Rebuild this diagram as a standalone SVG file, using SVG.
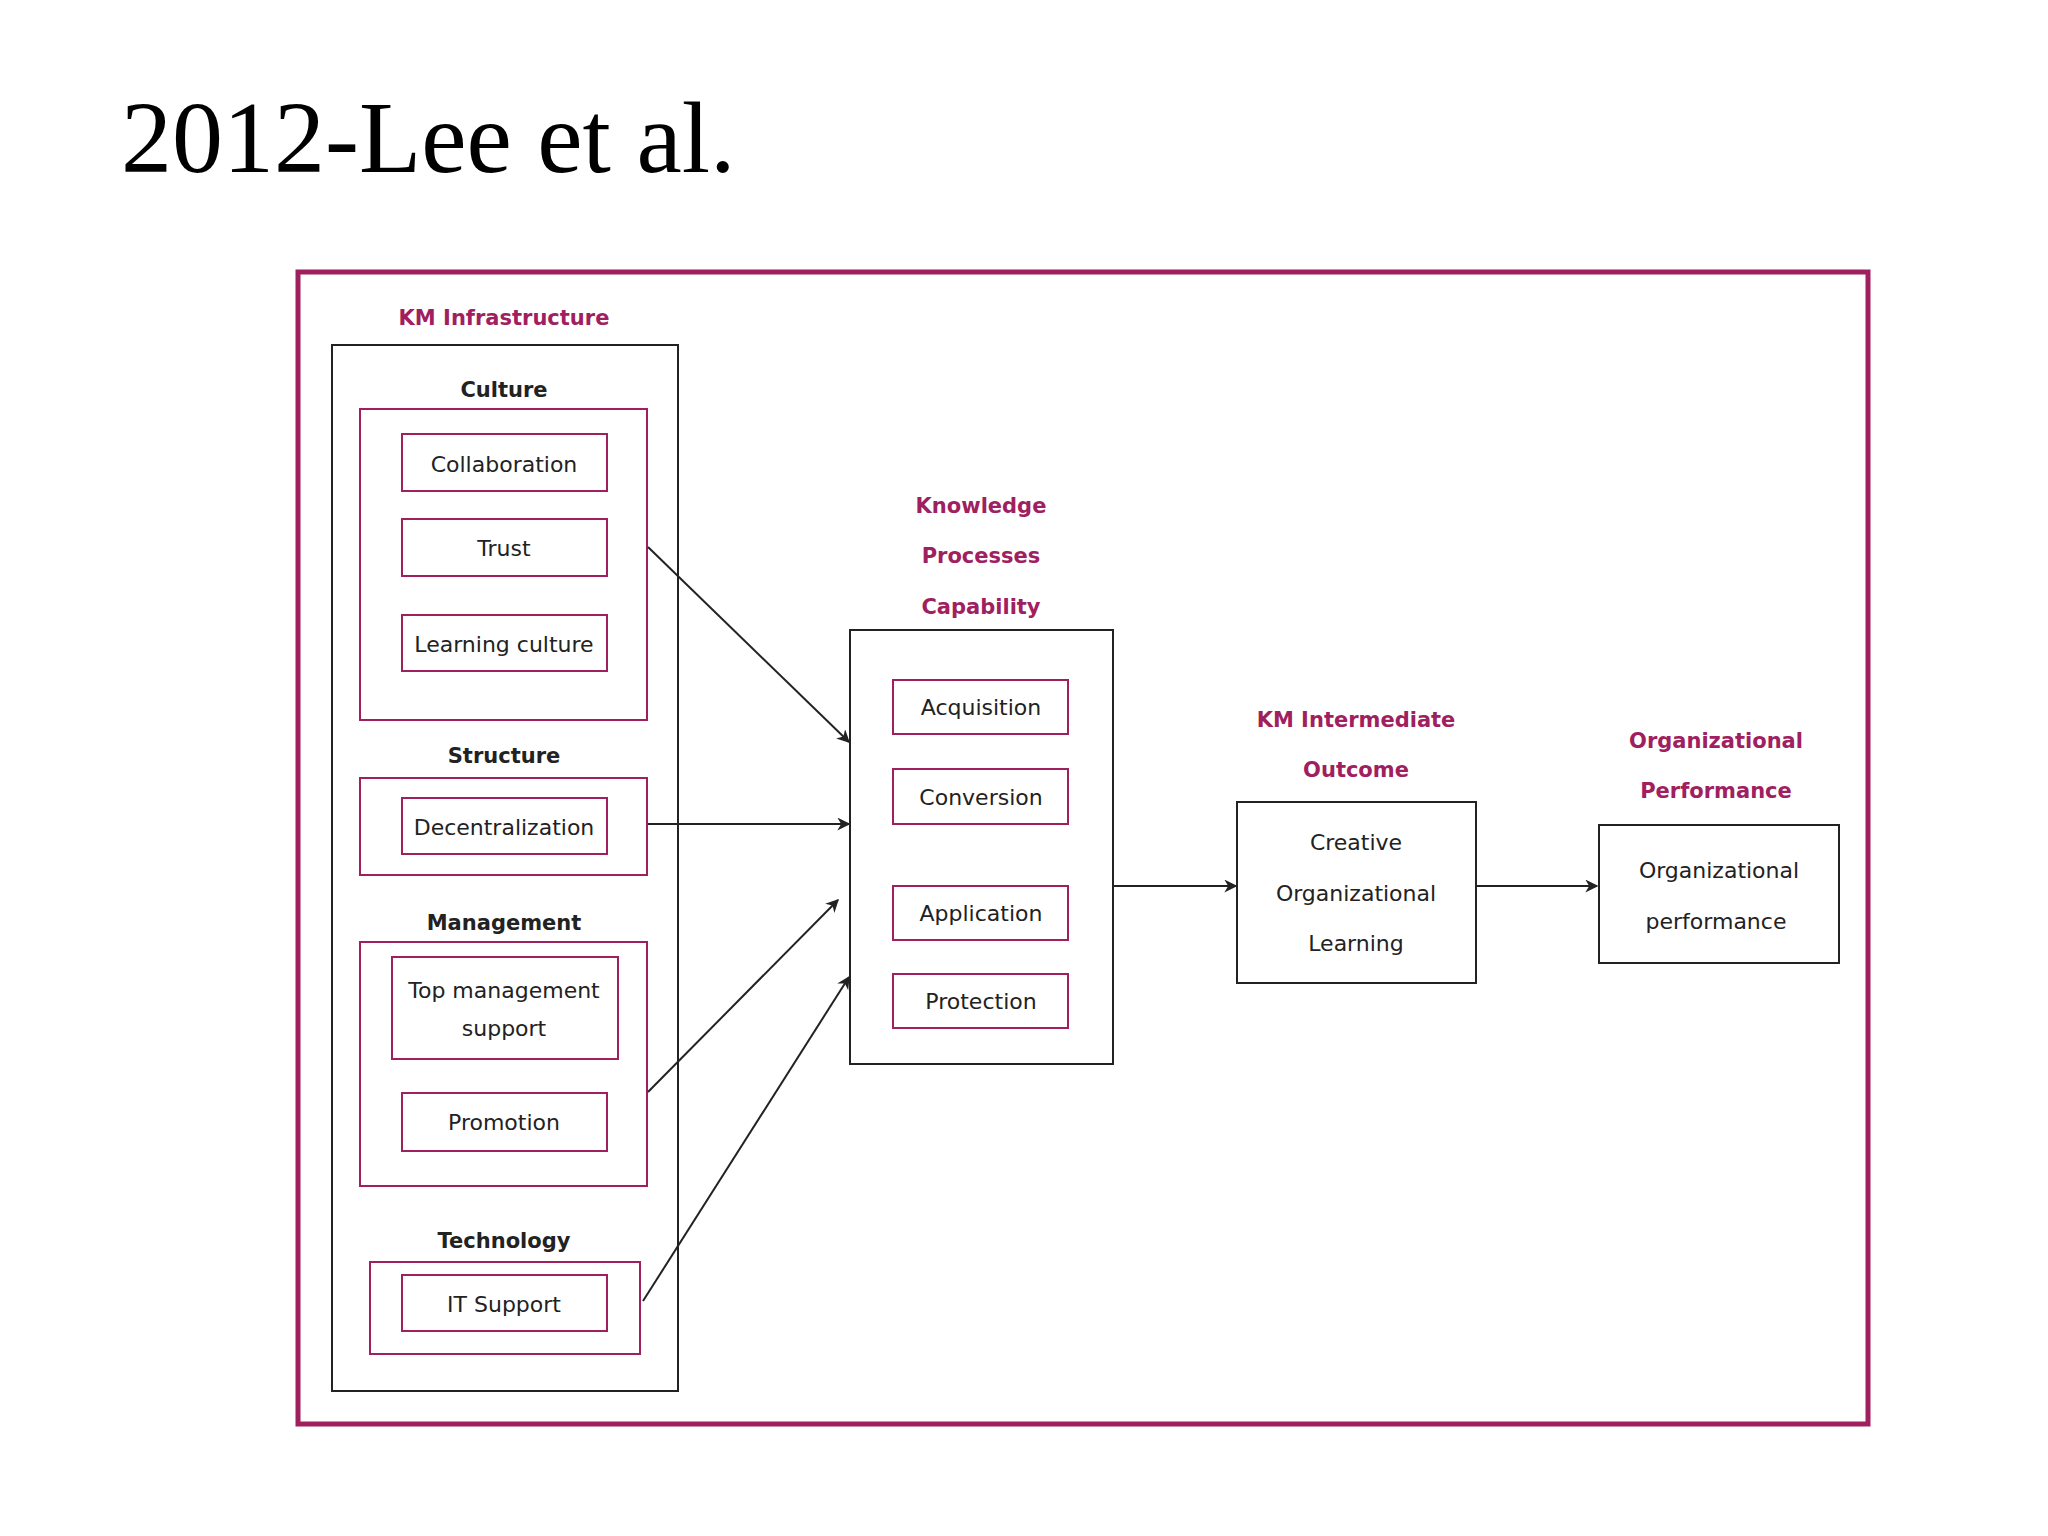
<svg xmlns="http://www.w3.org/2000/svg" width="2048" height="1536" viewBox="0 0 2048 1536">
<style>
.m{fill:none;stroke:#a0205f;stroke-width:2}
.k{fill:none;stroke:#222;stroke-width:2}
.lb{font-family:"DejaVu Sans",Verdana,sans-serif;font-size:21px;font-weight:bold;fill:#a0205f;text-anchor:middle}
.gl{font-family:"DejaVu Sans",Verdana,sans-serif;font-size:21px;font-weight:bold;fill:#222;text-anchor:middle}
.t{font-family:"DejaVu Sans",Verdana,sans-serif;font-size:22px;fill:#222;text-anchor:middle}
.c{stroke:#222;stroke-width:2;fill:none;marker-end:url(#ah)}
</style>
<defs><marker id="ah" viewBox="0 0 10 10" refX="9" refY="5" markerWidth="13" markerHeight="13" markerUnits="userSpaceOnUse" orient="auto"><path d="M0,0 L10,5 L0,10 L3,5 z" fill="#222"/></marker></defs>
<rect width="2048" height="1536" fill="#fff"/>
<text x="121" y="172" font-family="Liberation Serif,Times New Roman,serif" font-size="102">2012-Lee et al.</text>
<rect x="298" y="272" width="1570" height="1152" fill="none" stroke="#a0205f" stroke-width="5"/>
<g id="infra">
<text class="lb" x="504" y="325">KM Infrastructure</text>
<rect class="k" x="332" y="345" width="346" height="1046"/>
</g>
<g id="culture"><text class="gl" x="504" y="397">Culture</text><rect class="m" x="360" y="409" width="287" height="311"/></g>
<g id="collab"><rect class="m" x="402" y="434" width="205" height="57"/><text class="t" x="504" y="472">Collaboration</text></g>
<g id="trust"><rect class="m" x="402" y="519" width="205" height="57"/><text class="t" x="504" y="556">Trust</text></g>
<g id="lc"><rect class="m" x="402" y="615" width="205" height="56"/><text class="t" x="504" y="652">Learning culture</text></g>
<g id="structure"><text class="gl" x="504" y="763">Structure</text><rect class="m" x="360" y="778" width="287" height="97"/></g>
<g id="decent"><rect class="m" x="402" y="798" width="205" height="56"/><text class="t" x="504" y="835">Decentralization</text></g>
<g id="mgmt"><text class="gl" x="504" y="930">Management</text><rect class="m" x="360" y="942" width="287" height="244"/></g>
<g id="tms"><rect class="m" x="392" y="957" width="226" height="102"/><text class="t" x="504" y="998">Top management</text><text class="t" x="504" y="1036">support</text></g>
<g id="promo"><rect class="m" x="402" y="1093" width="205" height="58"/><text class="t" x="504" y="1130">Promotion</text></g>
<g id="tech"><text class="gl" x="504" y="1248">Technology</text><rect class="m" x="370" y="1262" width="270" height="92"/></g>
<g id="it"><rect class="m" x="402" y="1275" width="205" height="56"/><text class="t" x="504" y="1312">IT Support</text></g>
<g id="kpc">
<text class="lb" x="981" y="513">Knowledge</text><text class="lb" x="981" y="563">Processes</text><text class="lb" x="981" y="614">Capability</text>
<rect class="k" x="850" y="630" width="263" height="434"/>
</g>
<g id="acq"><rect class="m" x="893" y="680" width="175" height="54"/><text class="t" x="981" y="715">Acquisition</text></g>
<g id="conv"><rect class="m" x="893" y="769" width="175" height="55"/><text class="t" x="981" y="805">Conversion</text></g>
<g id="app"><rect class="m" x="893" y="886" width="175" height="54"/><text class="t" x="981" y="921">Application</text></g>
<g id="prot"><rect class="m" x="893" y="974" width="175" height="54"/><text class="t" x="981" y="1009">Protection</text></g>
<g id="kmio">
<text class="lb" x="1356" y="727">KM Intermediate</text><text class="lb" x="1356" y="777">Outcome</text>
<rect class="k" x="1237" y="802" width="239" height="181"/>
<text class="t" x="1356" y="850">Creative</text><text class="t" x="1356" y="901">Organizational</text><text class="t" x="1356" y="951">Learning</text>
</g>
<g id="op">
<text class="lb" x="1716" y="748">Organizational</text><text class="lb" x="1716" y="798">Performance</text>
<rect class="k" x="1599" y="825" width="240" height="138"/>
<text class="t" x="1719" y="878">Organizational</text><text class="t" x="1716" y="929">performance</text>
</g>
<g id="connectors">
<line class="c" x1="648" y1="547" x2="849" y2="742"/>
<line class="c" x1="648" y1="824" x2="849" y2="824"/>
<line class="c" x1="648" y1="1092" x2="838" y2="900"/>
<line class="c" x1="643" y1="1301" x2="849" y2="977"/>
<line class="c" x1="1113" y1="886" x2="1236" y2="886"/>
<line class="c" x1="1476" y1="886" x2="1597" y2="886"/>
</g>
</svg>
